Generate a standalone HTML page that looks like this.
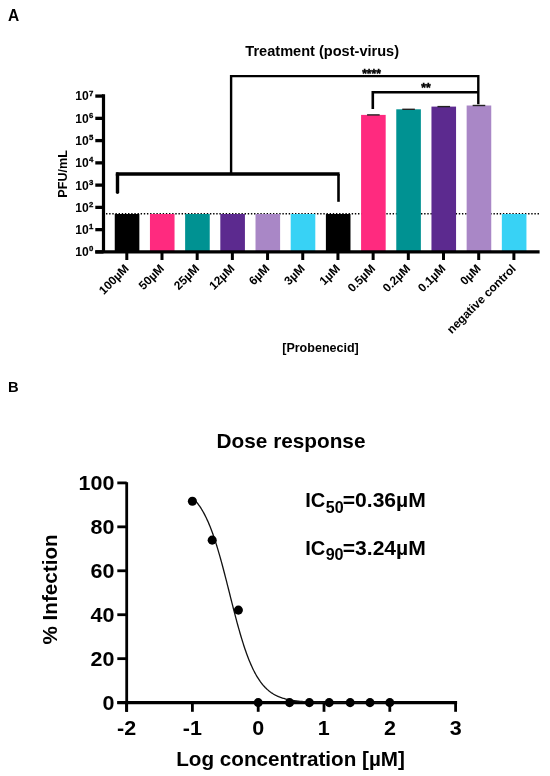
<!DOCTYPE html>
<html><head><meta charset="utf-8"><title>Figure</title>
<style>html,body{margin:0;padding:0;background:#fff;}svg{display:block;}</style></head>
<body><svg width="550" height="776" viewBox="0 0 550 776" font-family='"Liberation Sans", Arial, sans-serif' fill="#000">
<rect width="550" height="776" fill="#fff"/>
<line x1="106" x2="539" y1="213.7" y2="213.7" stroke="#000" stroke-width="1.5" stroke-dasharray="1.4 1.75"/>
<rect x="114.75" y="214.00" width="24.6" height="37.90" fill="#000000"/>
<rect x="149.94" y="214.00" width="24.6" height="37.90" fill="#FF2A7F"/>
<rect x="185.13" y="214.00" width="24.6" height="37.90" fill="#009292"/>
<rect x="220.32" y="214.00" width="24.6" height="37.90" fill="#5C2A8F"/>
<rect x="255.51" y="214.00" width="24.6" height="37.90" fill="#A987C6"/>
<rect x="290.70" y="214.00" width="24.6" height="37.90" fill="#38D2F5"/>
<rect x="325.89" y="214.00" width="24.6" height="37.90" fill="#000000"/>
<rect x="361.08" y="114.90" width="24.6" height="137.00" fill="#FF2A7F"/>
<rect x="396.27" y="109.30" width="24.6" height="142.60" fill="#009292"/>
<rect x="431.46" y="106.60" width="24.6" height="145.30" fill="#5C2A8F"/>
<rect x="466.65" y="105.50" width="24.6" height="146.40" fill="#A987C6"/>
<rect x="501.84" y="214.00" width="24.6" height="37.90" fill="#38D2F5"/>
<line x1="367.08" x2="379.68" y1="114.90" y2="114.90" stroke="#222" stroke-width="1.4"/>
<line x1="402.27" x2="414.87" y1="109.30" y2="109.30" stroke="#222" stroke-width="1.4"/>
<line x1="437.46" x2="450.06" y1="106.60" y2="106.60" stroke="#222" stroke-width="1.4"/>
<line x1="472.65" x2="485.25" y1="105.50" y2="105.50" stroke="#222" stroke-width="1.4"/>
<path d="M103.5 94.3 V251.9 M95.3 251.9 H539.6" stroke="#000" stroke-width="3.2" fill="none"/>
<line x1="95.3" x2="103.5" y1="251.90" y2="251.90" stroke="#000" stroke-width="3.3"/>
<text x="88.8" y="256.30" text-anchor="end" font-size="12.1" font-weight="bold">10</text>
<text x="89.0" y="251.40" font-size="7.8" font-weight="bold" stroke="#000" stroke-width="0.3">0</text>
<line x1="95.3" x2="103.5" y1="229.64" y2="229.64" stroke="#000" stroke-width="3.3"/>
<text x="88.8" y="234.04" text-anchor="end" font-size="12.1" font-weight="bold">10</text>
<text x="89.0" y="229.14" font-size="7.8" font-weight="bold" stroke="#000" stroke-width="0.3">1</text>
<line x1="95.3" x2="103.5" y1="207.38" y2="207.38" stroke="#000" stroke-width="3.3"/>
<text x="88.8" y="211.78" text-anchor="end" font-size="12.1" font-weight="bold">10</text>
<text x="89.0" y="206.88" font-size="7.8" font-weight="bold" stroke="#000" stroke-width="0.3">2</text>
<line x1="95.3" x2="103.5" y1="185.12" y2="185.12" stroke="#000" stroke-width="3.3"/>
<text x="88.8" y="189.52" text-anchor="end" font-size="12.1" font-weight="bold">10</text>
<text x="89.0" y="184.62" font-size="7.8" font-weight="bold" stroke="#000" stroke-width="0.3">3</text>
<line x1="95.3" x2="103.5" y1="162.86" y2="162.86" stroke="#000" stroke-width="3.3"/>
<text x="88.8" y="167.26" text-anchor="end" font-size="12.1" font-weight="bold">10</text>
<text x="89.0" y="162.36" font-size="7.8" font-weight="bold" stroke="#000" stroke-width="0.3">4</text>
<line x1="95.3" x2="103.5" y1="140.60" y2="140.60" stroke="#000" stroke-width="3.3"/>
<text x="88.8" y="145.00" text-anchor="end" font-size="12.1" font-weight="bold">10</text>
<text x="89.0" y="140.10" font-size="7.8" font-weight="bold" stroke="#000" stroke-width="0.3">5</text>
<line x1="95.3" x2="103.5" y1="118.34" y2="118.34" stroke="#000" stroke-width="3.3"/>
<text x="88.8" y="122.74" text-anchor="end" font-size="12.1" font-weight="bold">10</text>
<text x="89.0" y="117.84" font-size="7.8" font-weight="bold" stroke="#000" stroke-width="0.3">6</text>
<line x1="95.3" x2="103.5" y1="96.08" y2="96.08" stroke="#000" stroke-width="3.3"/>
<text x="88.8" y="100.48" text-anchor="end" font-size="12.1" font-weight="bold">10</text>
<text x="89.0" y="95.58" font-size="7.8" font-weight="bold" stroke="#000" stroke-width="0.3">7</text>
<line x1="126.80" x2="126.80" y1="251.9" y2="260" stroke="#000" stroke-width="3"/>
<text transform="translate(129.60,269.3) rotate(-45)" text-anchor="end" font-size="11.9" font-weight="bold">100µM</text>
<line x1="161.99" x2="161.99" y1="251.9" y2="260" stroke="#000" stroke-width="3"/>
<text transform="translate(164.79,269.3) rotate(-45)" text-anchor="end" font-size="11.9" font-weight="bold">50µM</text>
<line x1="197.18" x2="197.18" y1="251.9" y2="260" stroke="#000" stroke-width="3"/>
<text transform="translate(199.98,269.3) rotate(-45)" text-anchor="end" font-size="11.9" font-weight="bold">25µM</text>
<line x1="232.37" x2="232.37" y1="251.9" y2="260" stroke="#000" stroke-width="3"/>
<text transform="translate(235.17,269.3) rotate(-45)" text-anchor="end" font-size="11.9" font-weight="bold">12µM</text>
<line x1="267.56" x2="267.56" y1="251.9" y2="260" stroke="#000" stroke-width="3"/>
<text transform="translate(270.36,269.3) rotate(-45)" text-anchor="end" font-size="11.9" font-weight="bold">6µM</text>
<line x1="302.75" x2="302.75" y1="251.9" y2="260" stroke="#000" stroke-width="3"/>
<text transform="translate(305.55,269.3) rotate(-45)" text-anchor="end" font-size="11.9" font-weight="bold">3µM</text>
<line x1="337.94" x2="337.94" y1="251.9" y2="260" stroke="#000" stroke-width="3"/>
<text transform="translate(340.74,269.3) rotate(-45)" text-anchor="end" font-size="11.9" font-weight="bold">1µM</text>
<line x1="373.13" x2="373.13" y1="251.9" y2="260" stroke="#000" stroke-width="3"/>
<text transform="translate(375.93,269.3) rotate(-45)" text-anchor="end" font-size="11.9" font-weight="bold">0.5µM</text>
<line x1="408.32" x2="408.32" y1="251.9" y2="260" stroke="#000" stroke-width="3"/>
<text transform="translate(411.12,269.3) rotate(-45)" text-anchor="end" font-size="11.9" font-weight="bold">0.2µM</text>
<line x1="443.51" x2="443.51" y1="251.9" y2="260" stroke="#000" stroke-width="3"/>
<text transform="translate(446.31,269.3) rotate(-45)" text-anchor="end" font-size="11.9" font-weight="bold">0.1µM</text>
<line x1="478.70" x2="478.70" y1="251.9" y2="260" stroke="#000" stroke-width="3"/>
<text transform="translate(481.50,269.3) rotate(-45)" text-anchor="end" font-size="11.9" font-weight="bold">0µM</text>
<line x1="513.89" x2="513.89" y1="251.9" y2="260" stroke="#000" stroke-width="3"/>
<text transform="translate(516.69,269.3) rotate(-45)" text-anchor="end" font-size="11.9" font-weight="bold">negative control</text>
<path d="M117.5 192.2 V174" stroke="#000" stroke-width="3.4" fill="none" stroke-linecap="round"/>
<path d="M115.8 174 H339.6" stroke="#000" stroke-width="3.5" fill="none"/>
<path d="M338.5 174 V201.8" stroke="#000" stroke-width="2.6" fill="none"/>
<path d="M231.1 174 V76.1 H478.3 V104.2" stroke="#000" stroke-width="2.4" fill="none"/>
<path d="M372.8 109 V92.2 H478.3" stroke="#000" stroke-width="2.6" fill="none"/>
<text x="371.5" y="77.5" text-anchor="middle" font-size="12" font-weight="bold" stroke="#000" stroke-width="0.45">****</text>
<text x="426" y="92.3" text-anchor="middle" font-size="12" font-weight="bold" stroke="#000" stroke-width="0.45">**</text>
<text transform="translate(7.91,20.50) scale(0.9701,1)" font-size="16" font-weight="bold" fill="#000">A</text>
<text transform="translate(245.35,55.70) scale(0.9848,1)" font-size="14.8" font-weight="bold" fill="#000">Treatment (post-virus)</text>
<text transform="translate(66.80,197.65) rotate(-90) scale(0.9531,1)" font-size="13.2" font-weight="bold" fill="#000">PFU/mL</text>
<text transform="translate(282.21,351.90) scale(0.9801,1)" font-size="12.8" font-weight="bold" fill="#000">[Probenecid]</text>
<text transform="translate(7.90,391.80) scale(0.9836,1)" font-size="15.0" font-weight="bold" fill="#000">B</text>
<text transform="translate(216.60,447.80) scale(1.0393,1)" font-size="20.0" font-weight="bold" fill="#000">Dose response</text>
<path d="M126.7 482.2 V711.8" stroke="#000" stroke-width="2.8" fill="none"/>
<path d="M117.3 702.65 H457.1" stroke="#000" stroke-width="3.1" fill="none"/>
<line x1="117.3" x2="126.7" y1="702.60" y2="702.60" stroke="#000" stroke-width="2.8"/>
<text transform="translate(102.42,709.60) scale(1.0600,1)" font-size="20.3" font-weight="bold" fill="#000">0</text>
<line x1="117.3" x2="126.7" y1="658.66" y2="658.66" stroke="#000" stroke-width="2.8"/>
<text transform="translate(90.48,665.66) scale(1.0600,1)" font-size="20.3" font-weight="bold" fill="#000">20</text>
<line x1="117.3" x2="126.7" y1="614.72" y2="614.72" stroke="#000" stroke-width="2.8"/>
<text transform="translate(90.48,621.72) scale(1.0600,1)" font-size="20.3" font-weight="bold" fill="#000">40</text>
<line x1="117.3" x2="126.7" y1="570.78" y2="570.78" stroke="#000" stroke-width="2.8"/>
<text transform="translate(90.48,577.78) scale(1.0600,1)" font-size="20.3" font-weight="bold" fill="#000">60</text>
<line x1="117.3" x2="126.7" y1="526.84" y2="526.84" stroke="#000" stroke-width="2.8"/>
<text transform="translate(90.48,533.84) scale(1.0600,1)" font-size="20.3" font-weight="bold" fill="#000">80</text>
<line x1="117.3" x2="126.7" y1="482.90" y2="482.90" stroke="#000" stroke-width="2.8"/>
<text transform="translate(78.48,489.90) scale(1.0600,1)" font-size="20.3" font-weight="bold" fill="#000">100</text>
<line x1="126.60" x2="126.60" y1="702.6" y2="711.8" stroke="#000" stroke-width="2.8"/>
<text transform="translate(117.05,735.00) scale(1.0600,1)" font-size="20.3" font-weight="bold" fill="#000">-2</text>
<line x1="192.40" x2="192.40" y1="702.6" y2="711.8" stroke="#000" stroke-width="2.8"/>
<text transform="translate(182.72,735.00) scale(1.0600,1)" font-size="20.3" font-weight="bold" fill="#000">-1</text>
<line x1="258.20" x2="258.20" y1="702.6" y2="711.8" stroke="#000" stroke-width="2.8"/>
<text transform="translate(252.23,735.00) scale(1.0600,1)" font-size="20.3" font-weight="bold" fill="#000">0</text>
<line x1="324.00" x2="324.00" y1="702.6" y2="711.8" stroke="#000" stroke-width="2.8"/>
<text transform="translate(317.65,735.00) scale(1.0600,1)" font-size="20.3" font-weight="bold" fill="#000">1</text>
<line x1="389.80" x2="389.80" y1="702.6" y2="711.8" stroke="#000" stroke-width="2.8"/>
<text transform="translate(383.88,735.00) scale(1.0600,1)" font-size="20.3" font-weight="bold" fill="#000">2</text>
<line x1="455.60" x2="455.60" y1="702.6" y2="711.8" stroke="#000" stroke-width="2.8"/>
<text transform="translate(449.76,735.00) scale(1.0600,1)" font-size="20.3" font-weight="bold" fill="#000">3</text>
<polyline points="192.40,497.67 193.06,498.30 193.72,498.95 194.37,499.64 195.03,500.35 195.69,501.09 196.35,501.86 197.01,502.67 197.66,503.50 198.32,504.37 198.98,505.28 199.64,506.22 200.30,507.19 200.95,508.21 201.61,509.26 202.27,510.35 202.93,511.49 203.59,512.66 204.24,513.88 204.90,515.13 205.56,516.44 206.22,517.78 206.88,519.18 207.53,520.62 208.19,522.10 208.85,523.63 209.51,525.21 210.17,526.84 210.82,528.52 211.48,530.24 212.14,532.01 212.80,533.83 213.46,535.70 214.11,537.62 214.77,539.58 215.43,541.59 216.09,543.65 216.75,545.75 217.40,547.90 218.06,550.09 218.72,552.32 219.38,554.59 220.04,556.90 220.69,559.25 221.35,561.63 222.01,564.04 222.67,566.49 223.33,568.97 223.98,571.47 224.64,574.00 225.30,576.54 225.96,579.11 226.62,581.69 227.27,584.29 227.93,586.89 228.59,589.51 229.25,592.12 229.91,594.74 230.56,597.36 231.22,599.97 231.88,602.58 232.54,605.17 233.20,607.75 233.85,610.32 234.51,612.86 235.17,615.39 235.83,617.89 236.49,620.36 237.14,622.80 237.80,625.21 238.46,627.59 239.12,629.93 239.78,632.24 240.43,634.51 241.09,636.73 241.75,638.92 242.41,641.06 243.07,643.15 243.72,645.20 244.38,647.21 245.04,649.17 245.70,651.08 246.36,652.94 247.01,654.76 247.67,656.52 248.33,658.24 248.99,659.91 249.65,661.53 250.30,663.11 250.96,664.63 251.62,666.11 252.28,667.55 252.94,668.93 253.59,670.28 254.25,671.57 254.91,672.83 255.57,674.04 256.23,675.21 256.88,676.33 257.54,677.42 258.20,678.47 258.86,679.48 259.52,680.45 260.17,681.39 260.83,682.29 261.49,683.15 262.15,683.99 262.81,684.79 263.46,685.55 264.12,686.29 264.78,687.00 265.44,687.68 266.10,688.33 266.75,688.96 267.41,689.56 268.07,690.13 268.73,690.69 269.39,691.21 270.04,691.72 270.70,692.20 271.36,692.67 272.02,693.11 272.68,693.54 273.33,693.95 273.99,694.34 274.65,694.71 275.31,695.06 275.97,695.41 276.62,695.73 277.28,696.04 277.94,696.34 278.60,696.63 279.26,696.90 279.91,697.16 280.57,697.41 281.23,697.64 281.89,697.87 282.55,698.09 283.20,698.29 283.86,698.49 284.52,698.68 285.18,698.86 285.84,699.03 286.49,699.20 287.15,699.35 287.81,699.50 288.47,699.65 289.13,699.78 289.78,699.91 290.44,700.04 291.10,700.16 291.76,700.27 292.42,700.38 293.07,700.48 293.73,700.58 294.39,700.67 295.05,700.76 295.71,700.85 296.36,700.93 297.02,701.01 297.68,701.08 298.34,701.15 299.00,701.22 299.65,701.28 300.31,701.34 300.97,701.40 301.63,701.46 302.29,701.51 302.94,701.56 303.60,701.61 304.26,701.66 304.92,701.70 305.58,701.74 306.23,701.78 306.89,701.82 307.55,701.86 308.21,701.89 308.87,701.92 309.52,701.96 310.18,701.99 310.84,702.01 311.50,702.04 312.16,702.07 312.81,702.09 313.47,702.12 314.13,702.14 314.79,702.16 315.45,702.18 316.10,702.20 316.76,702.22 317.42,702.24 318.08,702.25 318.74,702.27 319.39,702.29 320.05,702.30 320.71,702.31 321.37,702.33 322.03,702.34 322.68,702.35 323.34,702.36 324.00,702.38 324.66,702.39 325.32,702.40 325.97,702.41 326.63,702.41 327.29,702.42 327.95,702.43 328.61,702.44 329.26,702.45 329.92,702.45 330.58,702.46 331.24,702.47 331.90,702.47 332.55,702.48 333.21,702.48 333.87,702.49 334.53,702.50 335.19,702.50 335.84,702.50 336.50,702.51 337.16,702.51 337.82,702.52 338.48,702.52 339.13,702.53 339.79,702.53 340.45,702.53 341.11,702.54 341.77,702.54 342.42,702.54 343.08,702.54 343.74,702.55 344.40,702.55 345.06,702.55 345.71,702.55 346.37,702.56 347.03,702.56 347.69,702.56 348.35,702.56 349.00,702.56 349.66,702.57 350.32,702.57 350.98,702.57 351.64,702.57 352.29,702.57 352.95,702.57 353.61,702.57 354.27,702.58 354.93,702.58 355.58,702.58 356.24,702.58 356.90,702.58 357.56,702.58 358.22,702.58 358.87,702.58 359.53,702.58 360.19,702.58 360.85,702.58 361.51,702.59 362.16,702.59 362.82,702.59 363.48,702.59 364.14,702.59 364.80,702.59 365.45,702.59 366.11,702.59 366.77,702.59 367.43,702.59 368.09,702.59 368.74,702.59 369.40,702.59 370.06,702.59 370.72,702.59 371.38,702.59 372.03,702.59 372.69,702.59 373.35,702.59 374.01,702.59 374.67,702.59 375.32,702.59 375.98,702.59 376.64,702.60 377.30,702.60 377.96,702.60 378.61,702.60 379.27,702.60 379.93,702.60 380.59,702.60 381.25,702.60 381.90,702.60 382.56,702.60 383.22,702.60 383.88,702.60 384.54,702.60 385.19,702.60 385.85,702.60 386.51,702.60 387.17,702.60 387.83,702.60 388.48,702.60 389.14,702.60 389.80,702.60" fill="none" stroke="#111" stroke-width="1.3"/>
<circle cx="192.40" cy="501.24" r="4.55" fill="#000"/>
<circle cx="212.21" cy="540.13" r="4.55" fill="#000"/>
<circle cx="238.39" cy="610.11" r="4.55" fill="#000"/>
<circle cx="258.20" cy="702.60" r="4.55" fill="#000"/>
<circle cx="289.59" cy="702.60" r="4.55" fill="#000"/>
<circle cx="309.40" cy="702.60" r="4.55" fill="#000"/>
<circle cx="329.21" cy="702.60" r="4.55" fill="#000"/>
<circle cx="350.18" cy="702.60" r="4.55" fill="#000"/>
<circle cx="369.99" cy="702.60" r="4.55" fill="#000"/>
<circle cx="389.80" cy="702.60" r="4.55" fill="#000"/>
<text transform="translate(57.10,644.52) rotate(-90) scale(1.0338,1)" font-size="20.0" font-weight="bold" fill="#000">% Infection</text>
<text transform="translate(176.20,766.20) scale(1.0183,1)" font-size="20.3" font-weight="bold" fill="#000">Log concentration [µM]</text>
<text transform="translate(305.14,507.20) scale(1.0208,1)" font-size="19.7" font-weight="bold" fill="#000">IC</text>
<text transform="translate(325.72,512.60) scale(0.9336,1)" font-size="17.2" font-weight="bold" fill="#000">50</text>
<text transform="translate(342.70,507.20) scale(1.0722,1)" font-size="19.7" font-weight="bold" fill="#000">=0.36µM</text>
<text transform="translate(305.14,554.50) scale(1.0208,1)" font-size="19.7" font-weight="bold" fill="#000">IC</text>
<text transform="translate(325.64,559.90) scale(0.9381,1)" font-size="17.2" font-weight="bold" fill="#000">90</text>
<text transform="translate(342.70,554.50) scale(1.0722,1)" font-size="19.7" font-weight="bold" fill="#000">=3.24µM</text>
</svg></body></html>
